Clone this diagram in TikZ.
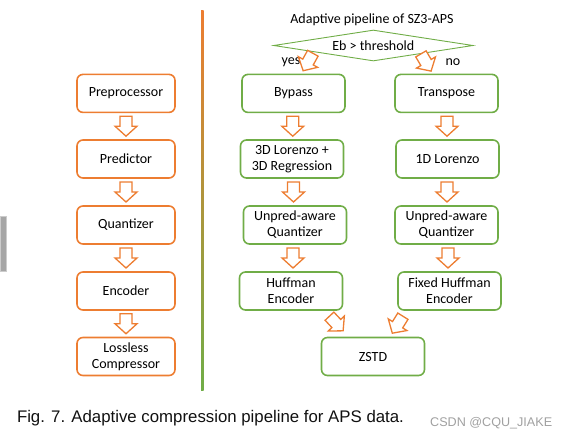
\documentclass[tikz,border=0pt]{standalone}
\usepackage{fontspec}
\setmainfont{Carlito}
\newfontfamily\capfont{Liberation Sans}
\usetikzlibrary{shapes.geometric,calc}
\definecolor{offorange}{HTML}{ED7D31}
\definecolor{offgreen}{HTML}{70AD47}
\definecolor{captxt}{HTML}{111111}
\definecolor{wmgray}{HTML}{A0A0A0}
\tikzset{
  obox/.style={draw=offorange, line width=1.6pt, rounded corners=6pt, minimum width=98pt, minimum height=38pt, align=center, inner sep=0pt, font=\fontsize{14}{16}\selectfont},
  gbox/.style={draw=offgreen, line width=1.6pt, rounded corners=6pt, minimum width=103pt, minimum height=38pt, align=center, inner sep=0pt, font=\fontsize{14}{16}\selectfont},
  lbl/.style={font=\fontsize{14}{16}\selectfont, inner sep=0pt},
  blockarrow/.pic={\draw[draw=offorange, fill=white, line width=1.3pt, line join=miter]
     (-10,-6) -- (0,-6) -- (0,-11) -- (10,0) -- (0,11) -- (0,6) -- (-10,6) -- cycle;}
}
\begin{document}
\begin{tikzpicture}[x=1pt,y=-1pt]
\useasboundingbox (0,0) rectangle (569,440);
% gray bar
\fill[fill=black!35,draw=black!20,line width=0.6pt] (0,216.7) rectangle (6,271.7);
% divider line
\shade[top color=offorange, bottom color=offgreen] (201.2,10) rectangle (203.6,390);
% left pipeline
\node[obox] (pre) at (126,93.4) {Preprocessor};
\node[obox] (pred) at (126,159) {Predictor};
\node[obox] (quan) at (126,225) {Quantizer};
\node[obox] (enc) at (126,291) {Encoder};
\node[obox] (loss) at (126,356.5) {Lossless\\Compressor};
\pic[rotate=-90] at ($(pre.south)!.5!(pred.north)$) {blockarrow};
\pic[rotate=-90] at ($(pred.south)!.5!(quan.north)$) {blockarrow};
\pic[rotate=-90] at ($(quan.south)!.5!(enc.north)$) {blockarrow};
\pic[rotate=-90] at ($(enc.south)!.5!(loss.north)$) {blockarrow};
% right pipeline
\node[lbl] (title) at (372,20) {Adaptive pipeline of SZ3-APS};
\node[diamond, draw=offgreen, line width=0.9pt, aspect=6.4, minimum width=199.5pt, minimum height=31pt, inner sep=0pt, font=\fontsize{14}{16}\selectfont] (dec) at (373.3,45.5) {Eb > threshold};
\node[lbl] (yes) at (291,62) {yes};
\node[lbl] (no) at (453,62) {no};
\node[gbox] (byp) at (293.5,93.4) {Bypass};
\node[gbox] (tra) at (446.5,93.4) {Transpose};
\node[gbox] (lor3) at (292,159) {3D Lorenzo +\\3D Regression};
\node[gbox] (lor1) at (447.5,159) {1D Lorenzo};
\node[gbox] (uq1) at (295,225) {Unpred-aware\\Quantizer};
\node[gbox] (uq2) at (446.5,225) {Unpred-aware\\Quantizer};
\node[gbox] (huf) at (291,291) {Huffman\\Encoder};
\node[gbox] (fhuf) at (449.5,291) {Fixed Huffman\\Encoder};
\node[gbox] (zstd) at (373,356.5) {ZSTD};
\coordinate (ya) at (308,62);
\coordinate (na) at (426,62.5);
\coordinate (za1) at (336.3,323.5);
\coordinate (za2) at (397.6,324.7);
\pic[rotate=-119] at (ya) {blockarrow};
\pic[rotate=-59.5] at (na) {blockarrow};
\pic[rotate=-90] at ($(byp.south)!.5!(lor3.north)$) {blockarrow};
\pic[rotate=-90] at ($(lor3.south)!.5!(uq1.north)$) {blockarrow};
\pic[rotate=-90] at ($(uq1.south)!.5!(huf.north)$) {blockarrow};
\pic[rotate=-90] at ($(tra.south)!.5!(lor1.north)$) {blockarrow};
\pic[rotate=-90] at ($(lor1.south)!.5!(uq2.north)$) {blockarrow};
\pic[rotate=-90] at ($(uq2.south)!.5!(fhuf.north)$) {blockarrow};
\pic[rotate=-47] at (za1) {blockarrow};
\pic[rotate=-122] at (za2) {blockarrow};
% caption
\node[anchor=west, inner sep=0pt, text=captxt, font=\capfont\fontsize{16.8}{18}\selectfont] (cap) at (16.8,418) {Fig. 7. Adaptive compression pipeline for APS data.};
\node[anchor=west, inner sep=0pt, text=wmgray, font=\capfont\fontsize{12.6}{14}\selectfont] (wm) at (430,423) {CSDN @CQU\_JIAKE};
\end{tikzpicture}
\end{document}
